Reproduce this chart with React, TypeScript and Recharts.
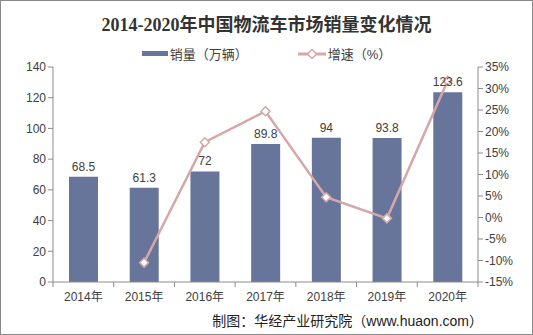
import React from 'react';
import {
  ComposedChart,
  Bar,
  Line,
  XAxis,
  YAxis,
  LabelList
} from 'recharts';

const years = ['2014年', '2015年', '2016年', '2017年', '2018年', '2019年', '2020年'];
const sales = [68.5, 61.3, 72, 89.8, 94, 93.8, 123.6];
const growth = [null, -10.5, 17.5, 24.7, 4.7, -0.2, 31.8];
const leftTicks = [0, 20, 40, 60, 80, 100, 120, 140];
const rightTicks = [-15, -10, -5, 0, 5, 10, 15, 20, 25, 30, 35];

const data = years.map((year, i) => ({ year, sales: sales[i], growth: growth[i] }));

const BAR_COLOR = '#67759a';
const LINE_COLOR = '#d6a7a8';
const AXIS_COLOR = '#8c8c8c';
const TEXT_COLOR = '#404040';
const FONT = '"Liberation Sans", Arial, "Noto Sans CJK SC", sans-serif';

// plot spans 53..478, seven categories
const BAND = (533 - 53 - 55) / years.length;

const XTick = (props: any) => {
  const { x, y, payload, index } = props;
  return (
    <g>
      <line x1={x - BAND / 2} y1={y - 8} x2={x - BAND / 2} y2={y - 3} stroke={AXIS_COLOR} />
      {index === years.length - 1 && (
        <line x1={x + BAND / 2} y1={y - 8} x2={x + BAND / 2} y2={y - 3} stroke={AXIS_COLOR} />
      )}
      <text x={x} y={y + 11} textAnchor="middle" fontSize={12} fill={TEXT_COLOR} fontFamily={FONT}>
        {payload.value}
      </text>
    </g>
  );
};

const Diamond = (props: any) => {
  const { cx, cy, value } = props;
  if (value === null || value === undefined || cx == null || cy == null) return null;
  const r = 4.5;
  return (
    <path
      d={`M${cx},${cy - r} L${cx + r},${cy} L${cx},${cy + r} L${cx - r},${cy} Z`}
      fill="#ffffff"
      stroke={LINE_COLOR}
      strokeWidth={1.5}
    />
  );
};

const LegendBox = () => (
  <div
    style={{
      position: 'absolute',
      top: 43,
      width: '100%',
      display: 'flex',
      justifyContent: 'center',
      alignItems: 'center',
      fontFamily: FONT,
      fontSize: 13,
      color: TEXT_COLOR
    }}
  >
    <span style={{ display: 'inline-block', width: 26, height: 5, background: BAR_COLOR, marginRight: 2 }} />
    <span>销量（万辆）</span>
    <svg width={28} height={12} style={{ marginLeft: 50, marginRight: 2 }}>
      <line x1={0} y1={6} x2={28} y2={6} stroke={LINE_COLOR} strokeWidth={3} />
      <path d="M14,1.5 L18.5,6 L14,10.5 L9.5,6 Z" fill="#fff" stroke={LINE_COLOR} strokeWidth={1.5} />
    </svg>
    <span>增速（%）</span>
  </div>
);

export default function App() {
  return (
    <div
      style={{
        position: 'absolute',
        left: 0,
        top: 0,
        width: 533,
        height: 335,
        background: '#ffffff',
        boxSizing: 'border-box',
        border: '1px solid #8a8a8a'
      }}
    >
      <div
        style={{
          position: 'absolute',
          top: 9,
          width: '100%',
          textAlign: 'center',
          fontFamily: '"Liberation Serif", "Noto Sans CJK SC", serif',
          fontWeight: 'bold',
          fontSize: 18,
          color: '#333333'
        }}
      >
        2014-2020年中国物流车市场销量变化情况
      </div>
      <LegendBox />
      <div style={{ position: 'absolute', left: -1, top: -1 }}>
        <ComposedChart width={533} height={335} data={data} margin={{ top: 67, right: 0, bottom: 33, left: 0 }}>
          <XAxis
            dataKey="year"
            stroke={AXIS_COLOR}
            tickLine={false}
            tick={<XTick />}
            height={20}
            interval={0}
          />
          <YAxis
            yAxisId="left"
            domain={[0, 140]}
            ticks={leftTicks}
            width={53}
            stroke={AXIS_COLOR}
            tickSize={5}
            tick={{ fontSize: 12, fill: TEXT_COLOR, fontFamily: FONT }}
            interval={0}
          />
          <YAxis
            yAxisId="right"
            orientation="right"
            domain={[-15, 35]}
            ticks={rightTicks}
            width={55}
            stroke={AXIS_COLOR}
            tickSize={5}
            tickFormatter={(v: number) => `${v}%`}
            tick={{ fontSize: 12, fill: TEXT_COLOR, fontFamily: FONT }}
            interval={0}
          />
          <Bar yAxisId="left" dataKey="sales" fill={BAR_COLOR} barSize={29} isAnimationActive={false}>
            <LabelList dataKey="sales" position="top" offset={6} fontSize={12} fill={TEXT_COLOR} fontFamily={FONT} />
          </Bar>
          <Line
            yAxisId="right"
            dataKey="growth"
            stroke={LINE_COLOR}
            strokeWidth={2.5}
            dot={<Diamond />}
            activeDot={false}
            connectNulls={false}
            isAnimationActive={false}
          />
        </ComposedChart>
      </div>
      <div
        style={{
          position: 'absolute',
          right: 49,
          top: 309,
          fontFamily: FONT,
          fontSize: 14,
          color: '#222222'
        }}
      >
        制图：华经产业研究院（www.huaon.com）
      </div>
    </div>
  );
}
